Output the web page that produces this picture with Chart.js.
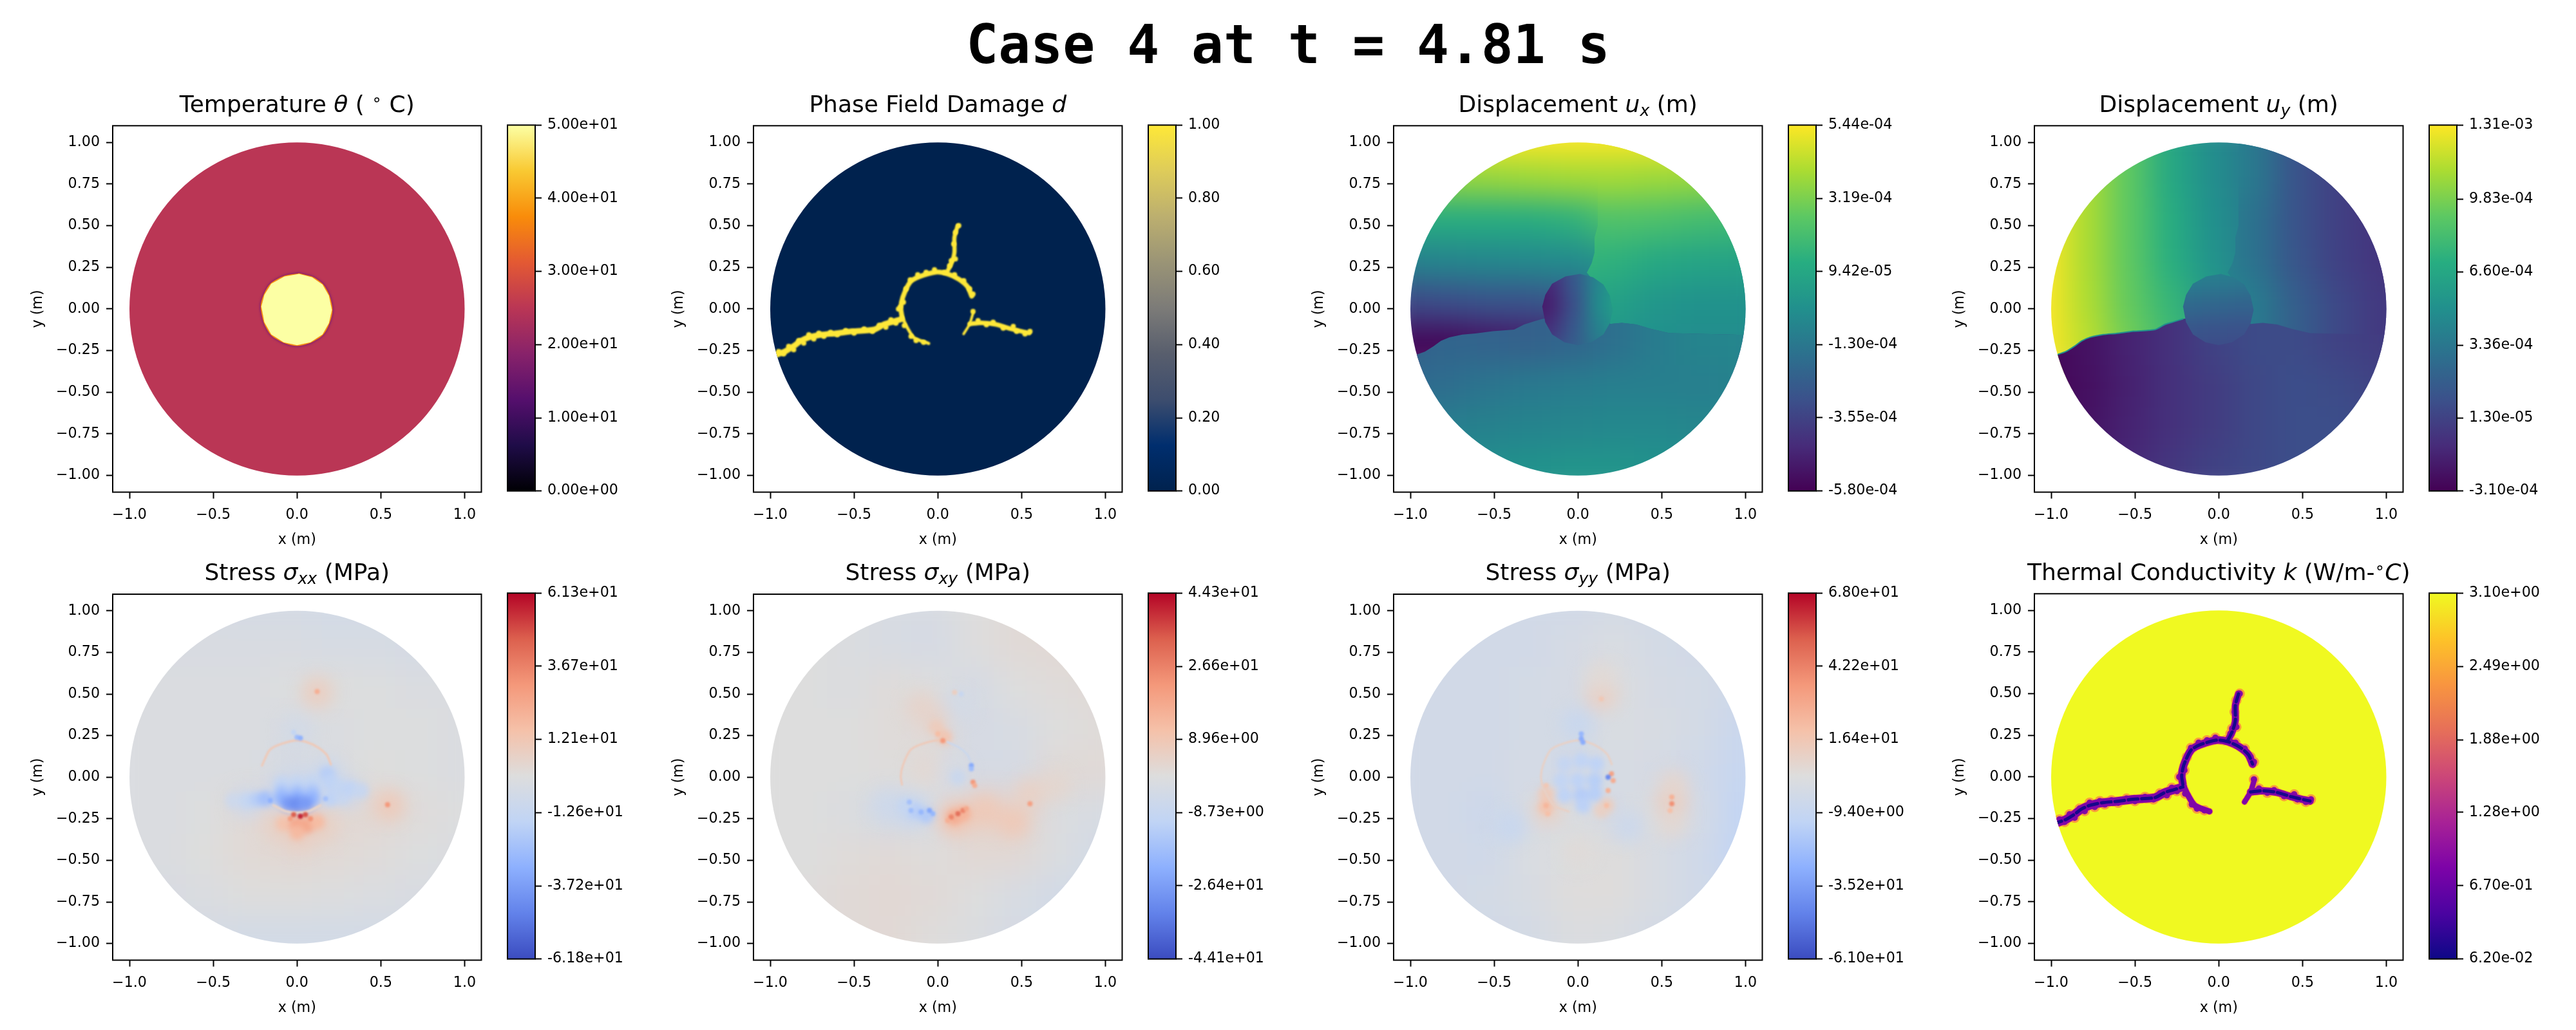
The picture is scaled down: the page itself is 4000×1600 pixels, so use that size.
<!DOCTYPE html>
<html>
<head>
<meta charset="utf-8">
<script src="https://cdn.jsdelivr.net/npm/chart.js@4"></script>
<style>
  html, body { margin: 0; background: #fff; }
  #page { position: relative; width: 4000px; height: 1600px; overflow: hidden; font-family: "DejaVu Sans"; color: #000; }
  #page canvas { position: absolute; }
  #suptitle { position: absolute; left: 0; width: 4000px; top: 28px; text-align: center; font: bold 83px/1 "DejaVu Sans Mono"; }
  .axtitle { position: absolute; width: 900px; text-align: center; font-size: 36px; line-height: 40px; white-space: nowrap; }
  .axtitle sub { font-size: .7em; line-height: 0; vertical-align: -.22em; }
  .axtitle .deg { font-size: .7em; line-height: 0; vertical-align: .42em; }
</style>
</head>
<body>
<div id="page"><div id="suptitle">Case 4 at t = 4.81 s</div></div>
<script>
// colour maps, evenly spaced stops
const inferno = [[0,0,4],[31,12,72],[85,15,109],[136,34,106],[186,54,85],[227,89,51],[249,140,10],[249,201,50],[252,255,164]];
const cividis = [[0,34,78],[0,46,110],[61,77,110],[88,94,109],[124,123,120],[154,148,118],[188,175,111],[222,204,90],[254,232,56]];
const viridis = [[68,1,84],[71,44,122],[59,81,139],[44,113,142],[33,144,141],[39,173,129],[92,200,99],[170,220,50],[253,231,37]];
const coolwarm = [[59,76,192],[98,130,234],[141,176,254],[192,212,245],[221,221,221],[245,193,169],[244,152,122],[220,96,78],[180,4,38]];
const plasma = [[13,8,135],[75,3,161],[125,3,168],[168,34,150],[204,71,120],[230,111,89],[248,149,64],[253,195,40],[240,249,33]];

// axis ticks
const xTicks = [-1, -0.5, 0, 0.5, 1];
const yTicks = [-1, -0.75, -0.5, -0.25, 0, 0.25, 0.5, 0.75, 1];

// colour bar tick labels
const thetaBar = ['0.00e+00', '1.00e+01', '2.00e+01', '3.00e+01', '4.00e+01', '5.00e+01'];
const damageBar = ['0.00', '0.20', '0.40', '0.60', '0.80', '1.00'];
const uxBar = ['-5.80e-04', '-3.55e-04', '-1.30e-04', '9.42e-05', '3.19e-04', '5.44e-04'];
const uyBar = ['-3.10e-04', '1.30e-05', '3.36e-04', '6.60e-04', '9.83e-04', '1.31e-03'];
const sxxBar = ['-6.18e+01', '-3.72e+01', '-1.26e+01', '1.21e+01', '3.67e+01', '6.13e+01'];
const sxyBar = ['-4.41e+01', '-2.64e+01', '-8.73e+00', '8.96e+00', '2.66e+01', '4.43e+01'];
const syyBar = ['-6.10e+01', '-3.52e+01', '-9.40e+00', '1.64e+01', '4.22e+01', '6.80e+01'];
const kBar = ['6.20e-02', '6.70e-01', '1.28e+00', '1.88e+00', '2.49e+00', '3.10e+00'];

// crack centre lines, [x, y] in metres
const crackLeft = [[-0.99,-0.29],[-0.964,-0.275],[-0.913,-0.256],[-0.861,-0.224],[-0.818,-0.192],[-0.767,-0.17],[-0.69,-0.154],[-0.612,-0.147],[-0.509,-0.134],[-0.381,-0.124],[-0.321,-0.093],[-0.269,-0.077],[-0.214,-0.06]];
const crackUp = [[0.053,0.218],[0.082,0.275],[0.099,0.339],[0.099,0.429],[0.118,0.499]];
const crackRight = [[0.19,-0.09],[0.262,-0.083],[0.348,-0.093],[0.434,-0.119],[0.545,-0.145]];
const ringLower = [[-0.055,-0.207],[-0.141,-0.173],[-0.184,-0.109],[-0.214,-0.045]];
const ringUpper = [[-0.214,-0.045],[-0.221,0.006],[-0.209,0.07],[-0.166,0.16],[-0.115,0.192],[-0.012,0.221],[0.057,0.211],[0.125,0.179],[0.177,0.134],[0.202,0.077]];
const ringRight = [[0.211,-0.022],[0.19,-0.09],[0.154,-0.15]];

// rough edge of the damaged band
const crackBumps = [[-0.95,-0.255],[-0.92,-0.27],[-0.89,-0.225],[-0.86,-0.245],[-0.83,-0.19],[-0.8,-0.205],[-0.77,-0.155],[-0.74,-0.18],[-0.71,-0.145],[-0.68,-0.165],[-0.64,-0.14],[-0.6,-0.155],[-0.55,-0.13],[-0.5,-0.145],[-0.44,-0.12],[-0.39,-0.135],[-0.35,-0.098],[-0.31,-0.11],[-0.28,-0.065],[-0.25,-0.085],
  [-0.225,0.01],[-0.235,0],[-0.205,0.04],[-0.19,0.12],[-0.165,0.175],[-0.12,0.205],[-0.07,0.22],[-0.02,0.235],[0.04,0.22],[0.1,0.205],[0.155,0.17],[0.19,0.12],[0.21,0.09],[-0.2,-0.1],[-0.16,-0.165],[-0.13,-0.19],[-0.085,-0.2],
  [0.08,0.29],[0.07,0.26],[0.105,0.3],[0.095,0.39],[0.105,0.46],[0.125,0.5],
  [0.24,-0.07],[0.29,-0.095],[0.33,-0.08],[0.39,-0.115],[0.45,-0.105],[0.47,-0.135],[0.52,-0.15],[0.55,-0.135],[0.21,-0.015]];

// region outlines used to cut the displacement jump along the cracks
const inclusionOutline = [[0.012,0.21],[0.09,0.19],[0.152,0.147],[0.19,0.08],[0.208,-0.006],[0.19,-0.085],[0.152,-0.153],[0.08,-0.2],[0,-0.218],[-0.08,-0.2],[-0.154,-0.153],[-0.195,-0.08],[-0.213,0.014],[-0.195,0.085],[-0.154,0.151],[-0.075,0.195]];
const lowerRegion = [[-1.2,-0.4],...crackLeft,[-0.15,-0.05],[0.15,-0.05],...crackRight,[1.2,-0.16],[1.2,-1.2],[-1.2,-1.2]];
const upperRightRegion = [...crackUp,[0.118,1.2],[1.2,1.2],[1.2,-0.16],...crackRight.slice().reverse(),[0.15,0.1]];

// field grids, rows from top to bottom
const gridX = [-1, -0.75, -0.5, -0.25, 0, 0.25, 0.5, 0.75, 1];
const gridY = [1, 0.75, 0.5, 0.25, 0, -0.25, -0.5, -0.75, -1];
const upperY = [1, 0.75, 0.5, 0.25, 0, -0.25];
const lowerY = [0, -0.25, -0.5, -0.75, -1];
const rightX = [0, 0.25, 0.5, 0.75, 1];
const innerAxis = [-0.3, -0.15, 0, 0.15, 0.3];
const innerY = [0.3, 0.15, 0, -0.15, -0.3];

const uxUpper = [
  [5.8,5.8,5.9,6.0,6.0,5.9,5.8,5.7,5.7],
  [3.6,3.6,3.7,3.8,3.9,3.9,3.8,3.7,3.7],
  [1.2,1.2,1.2,1.2,1.4,2.3,2.2,2,1.9],
  [-0.8,-0.7,-0.6,-0.5,-0.4,0,0,0,0],
  [-3.3,-3.1,-2.9,-2.9,-2.4,-1,-1,-1,-1],
  [-5.6,-5.6,-5.3,-5.0,-5.0,-3,-3,-3,-3]
];
const uxRight = [
  [6.0,5.9,5.8,5.7,5.7],
  [3.9,3.9,3.8,3.7,3.7],
  [2.0,2.3,2.2,2.0,1.9],
  [1.6,1.4,1.0,0.8,0.7],
  [0.7,0.6,0.1,-0.1,-0.1],
  [0.3,0.1,-0.2,-0.3,-0.3]
];
const uxLower = [
  [-2.4,-2.1,-2.2,-2.3,-2.1,-1.65,-1.1,-0.74,-0.63],
  [-2.4,-2.1,-2.2,-2.3,-2.1,-1.65,-1.1,-0.74,-0.63],
  [-1.87,-1.75,-1.4,-1.2,-1.1,-0.97,-0.97,-0.97,-0.85],
  [-1.1,-0.97,-0.85,-0.74,-0.63,-0.52,-0.52,-0.63,-0.74],
  [-0.4,-0.3,-0.18,-0.07,0.05,0.05,-0.07,-0.18,-0.3]
];
const uxInner = [
  [-3.55,-3.55,-2.43,-0.74,0.6],
  [-5.1,-4.45,-2.65,-0.5,0.8],
  [-5.5,-4.8,-3.0,-0.3,1.0],
  [-4.9,-4.2,-2.65,-0.8,0.4],
  [-3.0,-2.8,-2.3,-1.6,-1.2]
];

const uyUpper = [
  [14.5,11.1,9.05,6.6,4.8,3.4,1.1,0,-0.67],
  [14.5,11.1,9.05,6.7,4.9,3.4,1.1,0,-0.67],
  [14.5,11.1,9.05,6.95,5.0,3.6,1.1,0,-0.67],
  [14.5,11.1,9.1,7.1,5.2,3.8,1.2,0.1,-0.6],
  [14.5,11.2,9.2,7.6,5.6,4,1.8,0.45,-0.35],
  [14.5,11.5,9.6,8.0,6.0,4,1.8,0.45,-0.35]
];
const uyRight = [
  [4.8,3.4,1.1,0,-0.67],
  [4.9,3.4,1.1,0,-0.67],
  [4.4,3.0,1.1,0,-0.67],
  [4.4,3.0,1.2,0.1,-0.6],
  [4.6,3.7,1.8,0.45,-0.35],
  [4.6,3.4,1.8,0.45,-0.35]
];
const uyLower = [
  [-2.9,-2.3,-1.5,-0.8,0.15,0.6,0.6,0.15,-0.2],
  [-2.9,-2.3,-1.5,-0.8,0.15,0.6,0.6,0.15,-0.2],
  [-2.9,-2.45,-1.6,-0.8,-0.2,0.45,0.8,0.6,0.15],
  [-2.8,-2.3,-1.5,-0.8,-0.2,0.45,0.8,0.8,0.45],
  [-2.6,-2.0,-1.2,-0.5,0.15,0.45,0.8,0.8,0.45]
];
const uyInner = [
  [4.8,4.8,4.6,4.6,4.2],
  [3.8,3.8,3.6,3.4,3.2],
  [2.6,2.5,2.3,2.1,2.0],
  [1.3,1.2,1.1,1.0,1.0],
  [0.5,0.5,0.5,0.5,0.5]
];

const sxxBase = [
  [-4,-4,-4,-5,-5,-6,-6,-6,-6],
  [-3,-3,-3,-3,-3,-4,-4,-5,-5],
  [-2,-2,-2,-2,-1,0,-1,-2,-2],
  [-2,-2,-2,-2,-3,-2,-1,-1,-2],
  [-2,-2,-2,-2,-5,-2,0,-1,-2],
  [-2,-2,-1,2,5,3,3,1,-1],
  [-2,-2,0,2,3,2,1,-1,-2],
  [-3,-3,-2,0,0,-1,-2,-3,-4],
  [-5,-5,-5,-6,-6,-6,-6,-6,-6]
];
const sxyBase = [
  [0,0,-1,-2,-2,0,1.5,1.5,1.5],
  [0,0,-1,-2,-3,0,1.5,2,2],
  [0,0,-1,1,0,-3,0,1,1.5],
  [0,0,0,1,1.5,-3,-2,0,1],
  [0,0,0,0.5,0.5,-3,-3,1.5,1.5],
  [0,0,-1,-4,-2,5,4,-1,-2],
  [0,0,1,1.5,0.5,2,2,-1,-4],
  [0,0.5,1.5,2,1.5,0,-2,-4,-5],
  [0,0.5,1.5,2,0.5,-1,-3,-5,-5]
];
const syyBase = [
  [-3,-3,-3,-3,-3,-2,-3,-3,-4],
  [-3,-3,-3,-3,-1,1,-2,-3,-4],
  [-3,-3,-3,-2,-1,3,-1,-2,-5],
  [-3,-3,-3,-2,-2,1,0,-2,-7],
  [-3,-3,-3,-1,-4,0,-1,-4,-9],
  [-3,-3,-6,0,2,-1,2,-1,-11],
  [-3,-3,-4,1,3,4,0,-4,-11],
  [-3,-3,-2,0,4,4,0,-4,-7],
  [-3,-3,-3,-2,2,1,-2,-4,-5]
];

// stress concentrations, [x, y, value]: wide glow, medium patches, small hot cells
const sxxBroad = [[0.12,0.51,8],[0.55,-0.17,10],[0.03,-0.27,18],[0.02,-0.35,8],[-0.1,-0.29,7],[0.15,-0.3,7],[0,-0.03,-8],[0.18,0.01,-11],[-0.3,-0.15,-9],[0.3,-0.09,-10],[0,0.28,-6],[-0.1,-0.1,-12],[0.08,-0.1,-13]];
const sxxMid = [[-0.38,-0.14,-9],[-0.3,-0.14,-13],[-0.24,-0.135,-18],[-0.19,-0.13,-24],[0.2,-0.13,-16],[0.27,-0.12,-12],[0.18,0.02,-18],[0.2,-0.03,-16],[0.25,-0.06,-14],[0.32,-0.07,-15],[0.38,-0.08,-12],
  [-0.09,-0.04,-14],[0,-0.04,-14],[0.09,-0.04,-14],[-0.09,-0.09,-22],[0,-0.09,-23],[0.09,-0.09,-22],[-0.09,-0.13,-29],[0,-0.13,-32],[0.09,-0.13,-29],[-0.05,-0.16,-38],[0,-0.165,-42],[0.05,-0.16,-38],
  [-0.08,-0.28,14],[0,-0.29,27],[0.06,-0.29,25],[0.12,-0.27,17],[0,-0.33,18]];
const sxxFine = [[0.12,0.515,22],[0.54,-0.165,30],[0,0.24,-26],[0.02,0.235,-30],[-0.02,0.27,-14],[-0.02,-0.225,46],[0.02,-0.235,56],[0.05,-0.225,48],[-0.04,-0.25,28],[0.08,-0.25,32],[-0.16,-0.14,-30],[0.17,-0.13,-24]];
const sxyBroad = [[0.28,-0.2,8],[0.45,-0.27,8],[0.1,-0.25,10],[-0.15,-0.2,-9],[-0.3,-0.17,-6],[0.55,-0.1,5],[0.7,-0.05,3],[0.11,0.42,-4],[-0.02,0.35,4],[-0.1,0.42,4],[0.1,0.02,-3],[-0.08,0.05,2]];
const sxyMid = [[0.1,-0.24,17],[0.15,-0.22,15],[-0.14,-0.2,-13],[-0.07,-0.23,-14],[-0.19,-0.17,-9],[0.12,0,-7],[-0.01,0.3,7],[0.04,0.24,9]];
const sxyFine = [[0.03,0.22,22],[0,0.26,12],[0.55,-0.16,20],[0.12,-0.22,30],[0.08,-0.24,26],[0.15,-0.2,26],[0.17,-0.19,18],[0.06,-0.26,16],[-0.03,-0.22,-20],[-0.1,-0.21,-20],[-0.16,-0.2,-18],[-0.17,-0.15,-17],[-0.05,-0.2,-24],[0.2,0.07,-24],[0.2,0.05,-18],[0.21,-0.03,22],[0.22,-0.05,16],[0.14,0.5,-8],[0.1,0.51,6]];
const syyBroad = [[0.14,0.5,12],[0.14,0.6,6],[0.56,-0.15,15],[0.57,-0.05,8],[0.56,-0.27,7],[0,0.32,-8],[-0.4,-0.3,-8],[0.3,-0.3,-6],[-0.18,-0.2,10],[0,-0.45,5]];
const syyMid = [[-0.08,0.08,-10],[0.02,0.1,-12],[0.11,0.08,-13],[-0.1,-0.02,-11],[0,-0.02,-13],[0.1,-0.02,-15],[-0.08,-0.11,-13],[0.02,-0.11,-16],[0.1,-0.1,-15],[0.03,-0.17,-14],[-0.19,-0.1,14],[-0.19,-0.18,18],[0.17,-0.17,13],[0.14,-0.2,11]];
const syyFine = [[0.14,0.47,16],[0.56,-0.16,38],[0.56,-0.12,26],[0.55,-0.2,20],[0.02,0.26,-26],[0.03,0.21,-30],[0.02,0.23,-30],[0.2,0.02,32],[0.21,-0.02,28],[0.18,0,-42],[0.18,-0.08,26],[0.17,-0.17,20],[-0.19,-0.05,16],[-0.19,-0.17,24],[-0.18,-0.22,20]];
const lensGap = [[-0.14,-0.17],[-0.07,-0.205],[0,-0.215],[0.07,-0.205],[0.14,-0.17]];

// layer look, sizes in pixels
const baseBlur = 24, broadBlur = 13, midBlur = 5, fineBlur = 1.5;
const broadRadius = 24, midRadius = 12, fineRadius = 4;

function colorOf(stops, t) {
  t = Math.max(0, Math.min(1, t)) * (stops.length - 1);
  const i = Math.min(Math.floor(t), stops.length - 2), f = t - i;
  const c = [0, 1, 2].map(k => Math.round(stops[i][k] + (stops[i + 1][k] - stops[i][k]) * f));
  return 'rgb(' + c.join(',') + ')';
}

function pts(path) { return path.map(p => ({ x: p[0], y: p[1] })); }

// one rectangular cell per grid value
function gridLayer(xs, ys, rows, step, blur, region) {
  const data = [];
  ys.forEach((y, r) => xs.forEach((x, c) => data.push({ x, y, v: rows[r][c] })));
  return { kind: 'grid', data, step, blur, region };
}
function flatLayer(v) { return gridLayer([0], [0], [[v]], 2.4, 0); }
function spotLayer(spots, radius, blur) {
  return { kind: 'spot', data: spots.map(s => ({ x: s[0], y: s[1], v: s[2] })), radius, blur };
}
function bumpLayer(v, radius, blur) {
  return spotLayer(crackBumps.map(b => [b[0], b[1], v]), radius, blur);
}
function lineLayer(path, v, width, blur, dash) {
  return { kind: 'line', data: pts(path), v, width, blur, dash };
}
function fillLayer(v, outline, blur) { return { ...flatLayer(v), region: outline, blur }; }

const closedInclusion = [...inclusionOutline, inclusionOutline[0]];
const allCracks = [[crackLeft, 9], [ringLower, 5], [ringUpper, 7.5], [ringRight, 4], [crackUp, 6.5], [crackRight, 7]];

function damageLayers() {
  return [flatLayer(0), bumpLayer(1, 4, 1), ...allCracks.map(c => lineLayer(c[0], 1, c[1], 0.9))];
}
function kLayers() {
  const halo = allCracks.map(c => lineLayer(c[0], 2.3, c[1] + 6, 0.6, [12, 5]));
  const band = allCracks.map(c => lineLayer(c[0], 0.85, c[1] + 4, 0.6));
  const core = [crackLeft, ringUpper, crackUp, crackRight].map(p => lineLayer(p, 0.12, 5, 0.5, [15, 6]));
  return [flatLayer(3.1), bumpLayer(2.4, 8, 0.6), ...halo, bumpLayer(0.9, 5, 0.6), ...band, ...core];
}
function thetaLayers() {
  return [flatLayer(25),
    lineLayer(closedInclusion, 20, 6, 1.5),
    lineLayer(closedInclusion, 38, 2, 0.6),
    fillLayer(50, inclusionOutline, 0.8)];
}
function displacementLayers(upper, right, lower, inner, crackValue) {
  const layers = [
    gridLayer(gridX, upperY, upper, 0.25, 24),
    gridLayer(rightX, upperY, right, 0.25, 24, upperRightRegion),
    gridLayer(gridX, lowerY, lower, 0.25, 24, lowerRegion),
    gridLayer(innerAxis, innerY, inner, 0.15, 14, inclusionOutline)
  ];
  if (crackValue !== undefined) layers.push(lineLayer(crackLeft, crackValue, 2, 0.5));
  return layers;
}
function stressLayers(base, broad, mid, lines, fine) {
  return [gridLayer(gridX, gridY, base, 0.25, baseBlur), spotLayer(broad, broadRadius, broadBlur), spotLayer(mid, midRadius, midBlur), ...lines, spotLayer(fine, fineRadius, fineBlur)];
}

const panels = [
  { title: 'Temperature <i>θ</i> ( <span class="deg">∘</span> C)', map: inferno, bar: thetaBar, unit: 1, layers: thetaLayers() },
  { title: 'Phase Field Damage <i>d</i>', map: cividis, bar: damageBar, unit: 1, layers: damageLayers() },
  { title: 'Displacement <i>u</i><sub><i>x</i></sub> (m)', map: viridis, bar: uxBar, unit: 1e-4, layers: displacementLayers(uxUpper, uxRight, uxLower, uxInner) },
  { title: 'Displacement <i>u</i><sub><i>y</i></sub> (m)', map: viridis, bar: uyBar, unit: 1e-4, layers: displacementLayers(uyUpper, uyRight, uyLower, uyInner, 5) },
  { title: 'Stress <i>σ</i><sub><i>xx</i></sub> (MPa)', map: coolwarm, bar: sxxBar, unit: 1,
    layers: stressLayers(sxxBase, sxxBroad, sxxMid, [lineLayer(ringUpper.slice(2), 10, 3.5, 1), lineLayer(lensGap, 5, 4, 1)], sxxFine) },
  { title: 'Stress <i>σ</i><sub><i>xy</i></sub> (MPa)', map: coolwarm, bar: sxyBar, unit: 1,
    layers: stressLayers(sxyBase, sxyBroad, sxyMid, [lineLayer(ringUpper.slice(0, 7), 8, 3, 1), lineLayer(ringUpper.slice(6), -7, 3, 1)], sxyFine) },
  { title: 'Stress <i>σ</i><sub><i>yy</i></sub> (MPa)', map: coolwarm, bar: syyBar, unit: 1,
    layers: stressLayers(syyBase, syyBroad, syyMid, [lineLayer(ringUpper, 11, 3, 1), lineLayer(ringLower, 11, 3, 1)], syyFine) },
  { title: 'Thermal Conductivity <i>k</i> (W/m-<span class="deg">∘</span><i>C</i>)', map: plasma, bar: kBar, unit: 1, layers: kLayers() }
];

// panel frame positions on the page
const axLefts = [175, 1170, 2164, 3159];
const axTops = [192, 919];
const axSize = 572.5;
const barOffset = 613, barWidth = 43;
const tickFont = { family: 'DejaVu Sans', size: 22.2 };

const page = document.getElementById('page');
const under = document.createElement('canvas');
const layer = document.createElement('canvas');

// every dataset is painted alone, softened, then cut to the disc and its region
const fieldPlugin = {
  id: 'fieldPlugin',
  beforeDatasetDraw(chart) {
    const w = chart.canvas.width, h = chart.canvas.height;
    under.width = w; under.height = h;
    under.getContext('2d').drawImage(chart.canvas, 0, 0);
    chart.ctx.clearRect(0, 0, w, h);
  },
  afterDatasetDraw(chart, args) {
    const ds = chart.data.datasets[args.index];
    const ctx = chart.ctx, sx = chart.scales.x, sy = chart.scales.y;
    const w = chart.canvas.width, h = chart.canvas.height;
    layer.width = w; layer.height = h;
    layer.getContext('2d').drawImage(chart.canvas, 0, 0);
    ctx.clearRect(0, 0, w, h);
    ctx.drawImage(under, 0, 0);
    ctx.save();
    ctx.beginPath();
    ctx.ellipse(sx.getPixelForValue(0), sy.getPixelForValue(0),
      sx.getPixelForValue(1) - sx.getPixelForValue(0), sy.getPixelForValue(0) - sy.getPixelForValue(1), 0, 0, 2 * Math.PI);
    ctx.clip();
    if (ds.region) {
      ctx.beginPath();
      ds.region.forEach((p, i) => {
        const px = sx.getPixelForValue(p[0]), py = sy.getPixelForValue(p[1]);
        if (i) ctx.lineTo(px, py); else ctx.moveTo(px, py);
      });
      ctx.closePath();
      ctx.clip();
    }
    if (ds.blur) ctx.filter = 'blur(' + ds.blur + 'px)';
    ctx.drawImage(layer, 0, 0);
    ctx.restore();
  }
};

// full box round the plot area
const framePlugin = {
  id: 'framePlugin',
  afterDraw(chart) {
    const a = chart.chartArea, ctx = chart.ctx;
    ctx.save();
    ctx.strokeStyle = '#000';
    ctx.lineWidth = 2;
    ctx.strokeRect(a.left, a.top, a.right - a.left, a.bottom - a.top);
    ctx.restore();
  }
};

function addCanvas(left, top, width, height) {
  const c = document.createElement('canvas');
  c.width = width; c.height = height;
  c.style.left = left + 'px'; c.style.top = top + 'px';
  c.style.width = width + 'px'; c.style.height = height + 'px';
  page.appendChild(c);
  return c;
}

function toDataset(l, i, n, panel) {
  const vmin = Number(panel.bar[0]) / panel.unit, vmax = Number(panel.bar[5]) / panel.unit;
  const shade = v => colorOf(panel.map, (v - vmin) / (vmax - vmin));
  const ds = { data: l.data, order: n - i, clip: false, blur: l.blur, region: l.region, pointBorderWidth: 0, pointHoverRadius: 0 };
  if (l.kind === 'line') {
    return { ...ds, showLine: true, pointRadius: 0, borderColor: shade(l.v), borderWidth: l.width, borderDash: l.dash || [],
      borderCapStyle: 'round', borderJoinStyle: 'round', tension: 0.25 };
  }
  ds.pointStyle = l.kind === 'grid' ? 'rect' : 'circle';
  ds.pointBackgroundColor = c => shade(c.raw.v);
  ds.pointRadius = l.kind === 'grid'
    ? c => (c.chart.scales.x.getPixelForValue(l.step) - c.chart.scales.x.getPixelForValue(0)) * 1.3 * Math.SQRT1_2
    : l.radius;
  return ds;
}

function axisOptions(ticks, fmt, title, pad, extra) {
  return {
    type: 'linear', min: -1.1, max: 1.1,
    afterBuildTicks: s => { s.ticks = ticks.map(v => ({ value: v })); },
    ticks: { font: tickFont, color: '#000', padding: pad, autoSkip: false, maxRotation: 0, minRotation: 0, callback: fmt },
    grid: { drawOnChartArea: false, drawTicks: true, tickLength: 10, tickColor: '#000', tickWidth: 2 },
    border: { display: false },
    title: { display: true, text: title, font: tickFont, color: '#000', padding: { top: 11, bottom: 4 } },
    ...extra
  };
}
const signed = (v, d) => (v < 0 ? '\u2212' : '') + Math.abs(v).toFixed(d);

panels.forEach((panel, idx) => {
  const col = idx % 4, row = idx < 4 ? 0 : 1;
  const left = axLefts[col], top = axTops[row];
  const gutter = 140, foot = 92;
  const box = addCanvas(left - gutter, top - 20, gutter + Math.ceil(axSize) + 25, 20 + Math.ceil(axSize) + foot);

  new Chart(box, {
    type: 'scatter',
    data: { datasets: panel.layers.map((l, i) => toDataset(l, i, panel.layers.length, panel)) },
    options: {
      responsive: false, animation: false, events: [],
      layout: { padding: { top: 20, right: 25.5, left: 0, bottom: 0.5 } },
      plugins: { legend: { display: false }, tooltip: { enabled: false } },
      scales: {
        x: axisOptions(xTicks, v => signed(v, 1), 'x (m)', 12, { afterFit: s => { s.height = foot; } }),
        y: axisOptions(yTicks, v => signed(v, 2), 'y (m)', 10, { afterFit: s => { s.width = gutter; } })
      }
    },
    plugins: [fieldPlugin, framePlugin]
  });

  // colour bar: one floating bar painted with the map, on a value axis
  const barBox = addCanvas(left + barOffset - 5, top - 20, barWidth + 205, 40 + Math.ceil(axSize));
  const values = panel.bar.map(Number);
  new Chart(barBox, {
    type: 'bar',
    data: {
      labels: [''],
      datasets: [{
        data: [[values[0], values[5]]],
        categoryPercentage: 1, barPercentage: 1,
        backgroundColor: c => {
          const a = c.chart.chartArea;
          if (!a) return '#000';
          const g = c.chart.ctx.createLinearGradient(0, a.bottom, 0, a.top);
          panel.map.forEach((s, i) => g.addColorStop(i / (panel.map.length - 1), 'rgb(' + s.join(',') + ')'));
          return g;
        }
      }]
    },
    options: {
      responsive: false, animation: false, events: [],
      layout: { padding: { top: 20, bottom: 20.5, left: 5, right: 0 } },
      plugins: { legend: { display: false }, tooltip: { enabled: false } },
      scales: {
        x: { display: false },
        y: {
          position: 'right', min: values[0], max: values[5],
          afterBuildTicks: s => { s.ticks = values.map(v => ({ value: v })); },
          afterFit: s => { s.width = 200; },
          ticks: { font: tickFont, color: '#000', padding: 9, autoSkip: false, callback: (v, i) => panel.bar[i] },
          grid: { drawOnChartArea: false, drawTicks: true, tickLength: 10, tickColor: '#000', tickWidth: 2 },
          border: { display: false }
        }
      }
    },
    plugins: [framePlugin]
  });

  const t = document.createElement('div');
  t.className = 'axtitle';
  t.innerHTML = panel.title;
  t.style.left = (left + axSize / 2 - 450) + 'px';
  t.style.top = (top - 50) + 'px';
  page.appendChild(t);
});
</script>
</body>
</html>
